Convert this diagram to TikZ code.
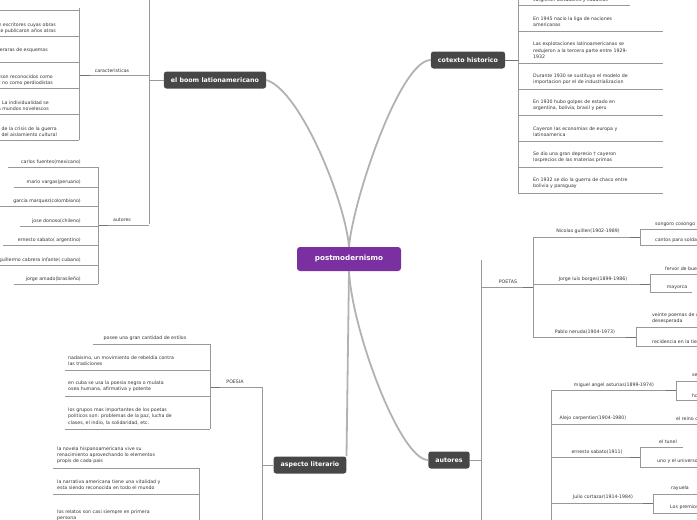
\documentclass[tikz,border=0pt]{standalone}
\usepackage{fontspec}
\setmainfont{DejaVu Sans}
\definecolor{cpurp}{RGB}{122,48,160}
\begin{document}
\begin{tikzpicture}[x=1pt,y=-1pt,
  t/.style={inner sep=0pt,font=\fontsize{4.7}{6.4}\selectfont,text=black!80,align=left},
  tr/.style={t,anchor=south east,align=right},
  tl/.style={t,anchor=south west},
  tc/.style={t,anchor=south},
  ln/.style={draw=black!40,line width=0.7pt},
  br/.style={draw=black!55,line width=0.9pt},
  main/.style={fill=black!72,text=white,rounded corners=2.5pt,font=\fontsize{6.3}{7}\selectfont\bfseries,minimum height=17pt,inner xsep=7pt},
  conn/.style={draw=black!30,line width=1.8pt}]
\useasboundingbox (0,0) rectangle (697,520);
\node[fill=cpurp,text=white,rounded corners=3pt,font=\fontsize{7.2}{8}\selectfont\bfseries,minimum width=104pt,minimum height=24pt] (c) at (349,259) {postmodernismo};
\node[main] (boom) at (215,80) {el boom lationamericano};
\node[main] (ctx) at (468,60) {cotexto historico};
\node[main] (lit) at (310,465) {aspecto literario};
\node[main] (aut) at (449,460) {autores};
\draw[conn] (c.north) .. controls (345,200) and (300,90) .. (boom.east);
\draw[conn] (c.north) .. controls (353,200) and (400,60) .. (ctx.west);
\draw[conn] (c.south) -- (lit.north east);
\draw[conn] (c.south) .. controls (352,330) and (400,460) .. (aut.west);
% boom branch
\coordinate (b0) at (149,0); \coordinate (b1) at (149,224);
\draw[ln] (boom.west) -- (149,80); \draw[ln] (b0) -- (b1);
\node[tc] (car) at (112,73) {caracteristicas};
\draw[ln] (79,75) -- (149,75);
\draw[br] (79,75) -- (90,75);
\draw[ln] (79,8) -- (79,140);
\foreach \y in {10,36,62,88,114,140} \draw[ln] (0,\y) -- (79,\y);
\node[tr] at (56,34) {Surgen escritores cuyas  obras\\se publicaron años atras};
\node[tr] at (48,53) {Las obras se liberaras de esquemas};
\node[tr] at (53,86) {Los escritores son reconocidos como\\narradores y no como perdiodistas};
\node[tr] at (49,112) {La individualidad se\\refleja en mundos novelescos};
\node[tr] at (57,138) {Surgio despues de la crisis de la guerra\\y del aislamiento cultural};
\node[tc] (aut1) at (122,222) {autores};
\draw[ln] (98,225) -- (149,225); \draw[br] (98,225) -- (108,225);
\draw[ln] (98,167) -- (98,284);
\foreach \y/\xa/\s in {167/8/carlos fuentes(mexicano),187/14/mario vargas(peruano),206/0/garcia marquez(colombiano),226/20/jose donoso(chileno),245/3/ernesto sabato( argentino),265/0/guillermo cabrera infante( cubano),284/14/jorge amado(brasileño)}{
  \draw[ln] (\xa,\y) -- (98,\y);
  \node[tr] at (81,\y-2.5) {\s};}
% cotexto
\draw[br] (ctx.east) -- (518,60);
\draw[ln] (518,0) -- (518,193);
\draw[ln] (518,5) -- (630,5);
\node[tl] at (533,3) {surgieron dictadores y  caudillos};
\foreach \y/\s in {31/{En 1945 nacio la liga de naciones\\americanas},63/{Las explotaciones latinoamericanas se\\redujeron a la tercera parte entre 1929-\\1932},89/{ Durante 1930 se sustituyo el modelo de\\importacion por el de industrializacion},115/{ En 1930 hubo golpes de estado en\\argentina, bolivia, brasil y peru},141/{Cayeron las economias de europa y\\latinoamerica},167/{Se dio una gran depresio † cayeron\\losprecios de las materias primas},193/{ En  1932 se dio la guerra de chaco entre\\bolivia y paraguay}}{
  \draw[ln] (518,\y) -- (663,\y);
  \node[tl] at (533,\y-4) {\s};}
% autores
\draw[ln] (aut.east) -- (481,460); \draw[ln] (481,260) -- (481,520);
\node[tc] at (508,284) {POETAS};
\draw[ln] (481,287) -- (533,287); \draw[br] (523,287) -- (533,287);
\draw[ln] (533,237) -- (533,337);
\node[tc] at (588,234) {Nicolas guillen(1902-1989)};
\draw[ln] (533,237) -- (640,237); \draw[br] (630,237) -- (640,237);
\draw[ln] (640,229) -- (640,245) (640,229) -- (697,229) (640,245) -- (697,245);
\node[tl] at (655,227) {songoro cosongo}; \node[tl] at (655,243) {cantos para soldados y sones para turistas};
\node[tc] at (593,282) {Jorge luis borges(1899-1986)};
\draw[ln] (533,284) -- (650,284); \draw[br] (640,284) -- (650,284);
\draw[ln] (650,274) -- (650,292) (650,274) -- (697,274) (650,292) -- (692,292);
\node[tl] at (665,271) {fervor de buenos aires}; \node[tc] at (677,290) {mayorca};
\node[tc] at (585,334) {Pablo neruda(1904-1973)};
\draw[ln] (533,337) -- (636,337); \draw[br] (626,337) -- (636,337);
\draw[ln] (636,327) -- (636,346) (636,327) -- (697,327) (636,346) -- (697,346);
\node[tl] at (652,324) {veinte poemas de amor y una cancion\\desesperada}; \node[tl] at (652,344) {recidencia en la tierra};
\draw[ln] (551,390) -- (551,520);
\node[tc] at (614,388) {miguel angel asturias(1899-1974)};
\draw[ln] (551,390) -- (676,390); \draw[br] (666,390) -- (676,390);
\draw[ln] (676,381) -- (676,400) (676,381) -- (697,381) (676,400) -- (697,400);
\node[tl] at (692,378) {señor presidente}; \node[tl] at (692,398) {hombres de maiz};
\node[tc] at (593,421) {Alejo carpentier(1904-1980)};
\draw[ln] (551,424) -- (697,424);
\node[tl] at (676,421) {el reino de este mundo};
\node[tc] at (597,454) {ernesto sabato(1911)};
\draw[ln] (551,457) -- (640,457); \draw[br] (630,457) -- (640,457);
\draw[ln] (640,447) -- (640,467) (640,447) -- (683,447) (640,467) -- (697,467);
\node[tc] at (668,444) {el tunel}; \node[tl] at (657,464) {uno y el universo};
\node[tc] at (603,500) {Julio cortazar(1914-1984)};
\draw[ln] (551,503) -- (653,503); \draw[br] (643,503) -- (653,503);
\draw[ln] (653,494) -- (653,513) (653,494) -- (697,494) (653,513) -- (697,513);
\node[tc] at (680,491) {rayuela}; \node[tl] at (670,510) {Los premios};
% aspecto literario
\draw[ln] (lit.west) -- (262,465); \draw[ln] (262,387) -- (262,520);
\node[tc] at (235,384) {POESIA};
\draw[ln] (210,387) -- (262,387); \draw[br] (210,387) -- (220,387);
\draw[ln] (210,344) -- (210,429);
\draw[ln] (93,344) -- (210,344);
\node[tc] at (145,341) {posee una gran cantidad de estilos};
\foreach \y/\s in {370/{nadaismo, un movimiento de rebeldia contra\\las tradiciones},396/{en cuba se usa la poesia negra o mulata\\osea humana, afirmativa y potente},429/{ los grupos mas importantes de los poetas\\politicos son: problemas de la paz, lucha de\\clases, el indio, la solidaridad, etc.}}{
  \draw[ln] (65,\y) -- (210,\y);
  \node[tl] at (68,\y-4) {\s};}
\draw[ln] (199,468) -- (199,520);
\foreach \y/\s in {468/{ la novela hispanoamericana vive su\\renacimiento  aprovechando lo elementos\\propis de  cada pais},494/{la narrativa americana tiene una vitalidad y\\esta siendo reconocida en todo el mundo},525/{ los relatos son casi siempre en primera\\persona}}{
  \draw[ln] (53,\y) -- (199,\y);
  \node[tl] at (57,\y-4) {\s};}
\end{tikzpicture}
\end{document}
